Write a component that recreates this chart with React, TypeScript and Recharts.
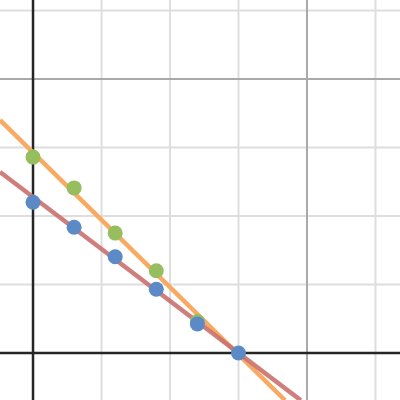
import { ComposedChart, Line, ReferenceLine, Scatter, XAxis, YAxis } from 'recharts'

// viewport in graph units (origin at the black axes)
const X_DOMAIN: [number, number] = [-0.482, 5.358]
const Y_DOMAIN: [number, number] = [-0.686, 5.153]

const MINOR_X = [1, 2, 3, 5]
const MINOR_Y = [1, 2, 3, 5]
const MAJOR_X = [4]
const MAJOR_Y = [4]

const greenPoints = [
  { x: 0, y: 2.86 },
  { x: 0.6, y: 2.41 },
  { x: 1.2, y: 1.75 },
  { x: 1.8, y: 1.2 },
  { x: 2.4, y: 0.46 },
]

const bluePoints = [
  { x: 0, y: 2.2 },
  { x: 0.6, y: 1.835 },
  { x: 1.2, y: 1.405 },
  { x: 1.8, y: 0.93 },
  { x: 2.4, y: 0.425 },
  { x: 3.0, y: 0 },
]

// fitted lines, end points read at the frame edges
const orangeLine = [
  { x: -0.482, y: 3.4 },
  { x: 3.68, y: -0.69 },
]

const redLine = [
  { x: -0.482, y: 2.642 },
  { x: 3.91, y: -0.69 },
]

const dot = (fill: string) => (p: any) => <circle cx={p.cx} cy={p.cy} r={7.5} fill={fill} />

export default function App() {
  return (
    <div style={{ position: 'absolute', left: 0, top: 0, width: 400, height: 400, background: '#fff' }}>
      <ComposedChart width={400} height={400} margin={{ top: 0, right: 0, bottom: 0, left: 0 }}>
        <XAxis type="number" dataKey="x" domain={X_DOMAIN} allowDataOverflow hide />
        <YAxis type="number" dataKey="y" domain={Y_DOMAIN} allowDataOverflow hide />
        {MINOR_X.map((v) => (
          <ReferenceLine key={`mx${v}`} x={v} stroke="#dedede" strokeWidth={2} />
        ))}
        {MINOR_Y.map((v) => (
          <ReferenceLine key={`my${v}`} y={v} stroke="#dedede" strokeWidth={2} />
        ))}
        {MAJOR_X.map((v) => (
          <ReferenceLine key={`Mx${v}`} x={v} stroke="#a9a9a9" strokeWidth={2} />
        ))}
        {MAJOR_Y.map((v) => (
          <ReferenceLine key={`My${v}`} y={v} stroke="#a9a9a9" strokeWidth={2} />
        ))}
        <ReferenceLine x={0} stroke="#252525" strokeWidth={2.5} />
        <ReferenceLine y={0} stroke="#252525" strokeWidth={2.5} />
        <Line
          data={orangeLine}
          dataKey="y"
          type="linear"
          stroke="#f8aa62"
          strokeWidth={4.5}
          dot={false}
          activeDot={false}
          isAnimationActive={false}
        />
        <Scatter data={greenPoints} dataKey="y" shape={dot('#96bd5e')} isAnimationActive={false} />
        <Scatter data={bluePoints} dataKey="y" shape={dot('#5b8ac7')} isAnimationActive={false} />
        <Line
          data={redLine}
          dataKey="y"
          type="linear"
          stroke="#c9706d"
          strokeOpacity={0.9}
          strokeWidth={4.5}
          dot={false}
          activeDot={false}
          isAnimationActive={false}
        />
      </ComposedChart>
    </div>
  )
}
